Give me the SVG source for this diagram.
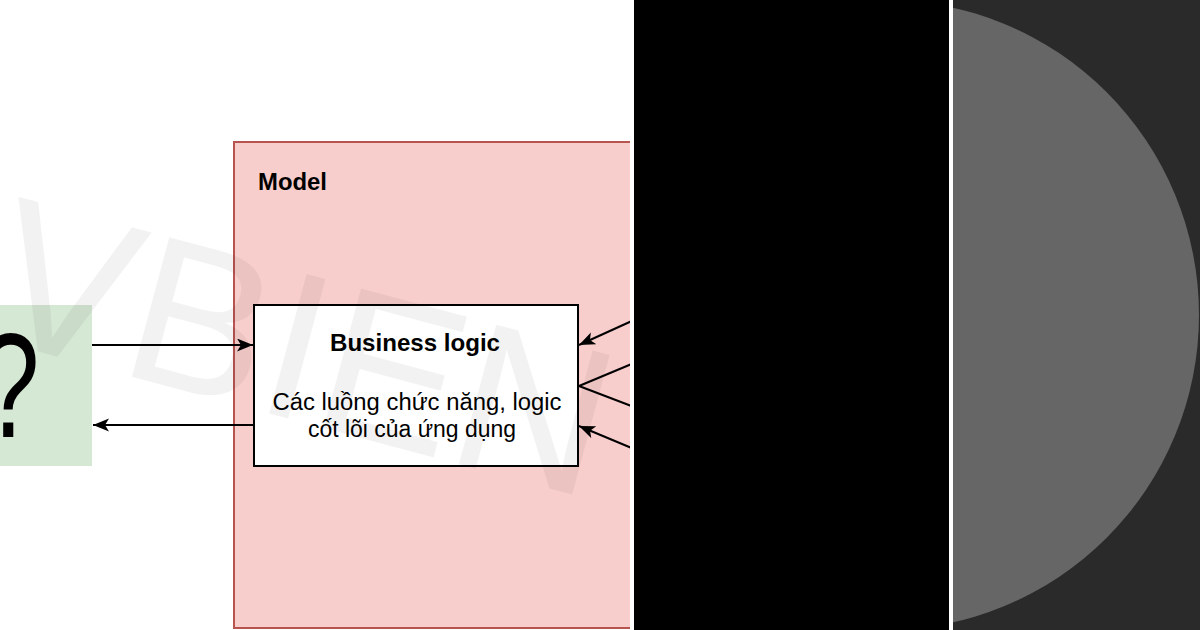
<svg xmlns="http://www.w3.org/2000/svg" width="1200" height="630" viewBox="0 0 1200 630">
  <style>
    .conn { stroke: #000; stroke-width: 2; fill: none; }
    .title { font-family: "Liberation Sans", Arial, sans-serif; font-weight: bold; fill: #000; }
    .body { font-family: "Liberation Sans", Arial, sans-serif; fill: #000; }
    .mark { font-family: "Liberation Sans", Arial, sans-serif; }
  </style>
  <defs>
    <marker id="arrow" markerUnits="userSpaceOnUse" markerWidth="18" markerHeight="14" refX="16" refY="6.5" orient="auto">
      <path d="M0,0 L16,6.5 L0,13 L4,6.5 Z" fill="#000"/>
    </marker>
    <clipPath id="darkClip"><rect x="953" y="0" width="247" height="630"/></clipPath>
  </defs>

  <rect x="0" y="0" width="1200" height="630" fill="#ffffff"/>

  <g id="model">
    <rect x="234" y="142" width="420" height="486" fill="#f8cecc" stroke="#b85450" stroke-width="2"/>
    <text class="title" x="258" y="190" font-size="24" textLength="69" lengthAdjust="spacingAndGlyphs">Model</text>
  </g>

  <g id="unknown">
    <rect x="0" y="305" width="92" height="161" fill="#d5e8d4"/>
    <text class="mark" x="10" y="437" font-size="148" text-anchor="middle" fill="#000" textLength="59" lengthAdjust="spacingAndGlyphs">?</text>
  </g>

  <g id="business-logic">
    <rect x="254" y="305" width="324" height="161" fill="#ffffff" stroke="#000" stroke-width="2"/>
    <text class="title" x="415" y="351" font-size="24" text-anchor="middle" textLength="170" lengthAdjust="spacingAndGlyphs">Business logic</text>
    <text class="body" x="417" y="410" font-size="23" text-anchor="middle" textLength="289" lengthAdjust="spacingAndGlyphs">Các luồng chức năng, logic</text>
    <text class="body" x="412" y="437" font-size="23" text-anchor="middle" textLength="208" lengthAdjust="spacingAndGlyphs">cốt lõi của ứng dụng</text>
  </g>

  <g id="connectors">
    <line class="conn" x1="92" y1="345" x2="253" y2="345" marker-end="url(#arrow)"/>
    <line class="conn" x1="254" y1="425" x2="93" y2="425" marker-end="url(#arrow)"/>
    <line class="conn" x1="634" y1="320" x2="579" y2="345" marker-end="url(#arrow)"/>
    <line class="conn" x1="579" y1="386" x2="634" y2="363"/>
    <line class="conn" x1="579" y1="386" x2="634" y2="407"/>
    <line class="conn" x1="634" y1="449" x2="579" y2="426" marker-end="url(#arrow)"/>
  </g>

  <g id="watermark">
    <text class="mark" x="-20" y="336" font-size="210" fill="#000" fill-opacity="0.05" transform="rotate(15 -20 336)">VBIEN</text>
  </g>

  <g id="right-panels">
    <rect x="630" y="0" width="4" height="630" fill="#ffffff"/>
    <rect x="634" y="0" width="315" height="630" fill="#000000"/>
    <rect x="949" y="0" width="4" height="630" fill="#ffffff"/>
    <rect x="953" y="0" width="247" height="630" fill="#2a2a2a"/>
    <circle cx="884" cy="315" r="315" fill="#666666" clip-path="url(#darkClip)"/>
  </g>
</svg>
